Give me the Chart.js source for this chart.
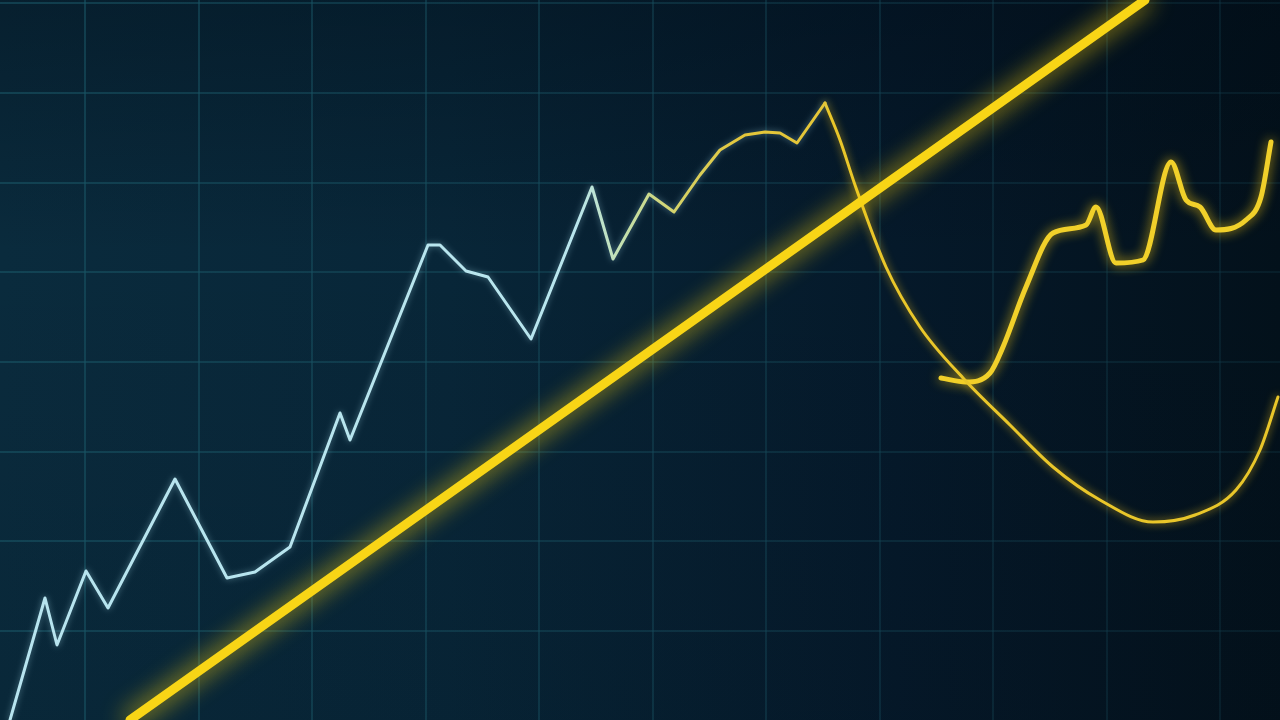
<!DOCTYPE html>
<html>
<head>
<meta charset="utf-8">
<script src="https://cdn.jsdelivr.net/npm/chart.js@4/dist/chart.umd.min.js"></script>
<style>
  html, body { margin: 0; padding: 0; background: #041824; }
  #wrap { width: 1280px; height: 720px; }
</style>
</head>
<body>
<div id="wrap"><canvas id="c" width="1280" height="720"></canvas></div>
<script>
// values: x across, y = height from the bottom edge
const trendX = [130, 1145];
const trendY = [0, 720];

const riseX = [10, 45, 57, 86, 108, 175, 227, 255, 290, 340, 350, 428, 440, 466, 488, 531, 592, 613, 649, 674, 700, 720, 745, 765, 780, 797, 825];
const riseY = [0, 122, 75, 149, 112, 241, 142, 148, 173, 307, 280, 475, 475, 449, 443, 381, 533, 461, 526, 508, 545, 570, 585, 588, 587, 577, 617];

const fallX = [825, 840, 855, 886, 920, 963, 1010, 1053, 1100, 1153, 1195, 1236, 1260, 1278];
const fallY = [617, 580, 535, 453, 393, 342, 295, 253, 220, 198, 205, 230, 270, 323];

const reboundX = [941, 966, 990, 1003, 1026, 1053, 1086, 1096, 1116, 1143, 1171, 1186, 1200, 1216, 1246, 1261, 1271];
const reboundY = [342, 338, 347, 373, 433, 487, 495, 513, 457, 460, 558, 520, 513, 490, 500, 523, 578];

const gridX = [85, 198.5, 312, 425.5, 539, 652.5, 766, 879.5, 993, 1106.5, 1220];
const gridY = [89, 179, 268, 358, 448, 537, 627, 717];

const glow = [
    { color: 'rgba(255, 214, 10, 0.95)', blur: 24 },
    { color: 'rgba(170, 225, 240, 0.45)', blur: 6 },
    { color: 'rgba(255, 205, 30, 0.7)', blur: 8 },
    { color: 'rgba(255, 210, 20, 0.8)', blur: 12 }
];

function pts(xs, ys) {
    return xs.map((x, i) => ({ x: x, y: ys[i] }));
}

function riseColor(ctx) {
    const area = ctx.chart.chartArea;
    if (!area) return '#b9e6f0';
    const g = ctx.chart.ctx.createLinearGradient(area.left, 0, area.right, 0);
    g.addColorStop(0, '#b7e4ef');
    g.addColorStop(0.45, '#b9e6ee');
    g.addColorStop(0.49, '#c4dfa8');
    g.addColorStop(0.53, '#d6d266');
    g.addColorStop(0.58, '#e4c63a');
    g.addColorStop(1, '#e8c52c');
    return g;
}

function gridColor(ctx) {
    const area = ctx.chart.chartArea;
    if (!area) return 'rgba(22, 78, 94, 0.5)';
    const g = ctx.chart.ctx.createLinearGradient(area.left, 0, area.right, 0);
    g.addColorStop(0, 'rgba(24, 84, 100, 0.6)');
    g.addColorStop(0.5, 'rgba(22, 76, 92, 0.45)');
    g.addColorStop(1, 'rgba(18, 60, 74, 0.3)');
    return g;
}

const backdrop = {
    id: 'backdrop',
    beforeDraw(chart) {
        const c = chart.ctx, w = chart.width, h = chart.height;
        c.save();
        const lin = c.createLinearGradient(0, 0, w, 0);
        lin.addColorStop(0, '#0a2b3d');
        lin.addColorStop(0.35, '#082638');
        lin.addColorStop(0.7, '#05192a');
        lin.addColorStop(1, '#03111b');
        c.fillStyle = lin;
        c.fillRect(0, 0, w, h);
        const top = c.createLinearGradient(0, 0, 0, h);
        top.addColorStop(0, 'rgba(0, 10, 20, 0.35)');
        top.addColorStop(0.35, 'rgba(0, 10, 20, 0)');
        top.addColorStop(1, 'rgba(0, 10, 20, 0.1)');
        c.fillStyle = top;
        c.fillRect(0, 0, w, h);
        c.restore();
    }
};

const glowPlugin = {
    id: 'glow',
    beforeDatasetDraw(chart, args) {
        const g = glow[args.index];
        chart.ctx.save();
        chart.ctx.shadowColor = g.color;
        chart.ctx.shadowBlur = g.blur;
    },
    afterDatasetDraw(chart) {
        chart.ctx.restore();
    }
};

new Chart(document.getElementById('c'), {
    type: 'line',
    data: {
        datasets: [
            { data: pts(trendX, trendY), borderColor: '#f8d516', borderWidth: 9, tension: 0 },
            { data: pts(riseX, riseY), borderColor: riseColor, borderWidth: 3, tension: 0 },
            { data: pts(fallX, fallY), borderColor: '#e9c62a', borderWidth: 3, cubicInterpolationMode: 'monotone' },
            { data: pts(reboundX, reboundY), borderColor: '#f1d02a', borderWidth: 5, cubicInterpolationMode: 'monotone' }
        ]
    },
    options: {
        responsive: false,
        animation: false,
        layout: { padding: 0 },
        elements: { point: { radius: 0 }, line: { borderCapStyle: 'round', borderJoinStyle: 'round', fill: false } },
        plugins: { legend: { display: false }, tooltip: { enabled: false } },
        scales: {
            x: {
                type: 'linear', min: 0, max: 1280,
                ticks: { display: false },
                border: { display: false },
                grid: { color: gridColor, lineWidth: 2, drawTicks: false },
                afterBuildTicks: s => { s.ticks = gridX.map(v => ({ value: v })); }
            },
            y: {
                type: 'linear', min: 0, max: 720,
                ticks: { display: false },
                border: { display: false },
                grid: { color: gridColor, lineWidth: 2, drawTicks: false },
                afterBuildTicks: s => { s.ticks = gridY.map(v => ({ value: v })); }
            }
        }
    },
    plugins: [backdrop, glowPlugin]
});
</script>
</body>
</html>
